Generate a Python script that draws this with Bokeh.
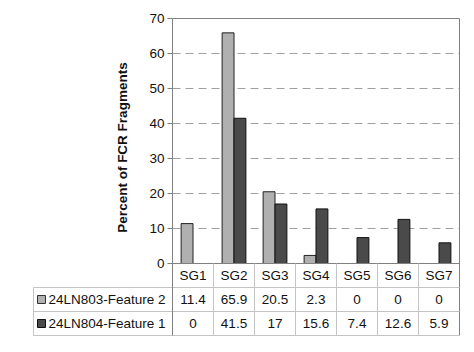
import math
from bokeh.plotting import figure
from bokeh.models import Range1d, FixedTicker, Label, LinearAxis
from bokeh.core.properties import value
from bokeh.embed import file_html
from bokeh.resources import INLINE

categories = ["SG1", "SG2", "SG3", "SG4", "SG5", "SG6", "SG7"]
series_names = ["24LN803-Feature 2", "24LN804-Feature 1"]
feature2 = [11.4, 65.9, 20.5, 2.3, 0, 0, 0]
feature1 = [0, 41.5, 17, 15.6, 7.4, 12.6, 5.9]
feature2_labels = ["11.4", "65.9", "20.5", "2.3", "0", "0", "0"]
feature1_labels = ["0", "41.5", "17", "15.6", "7.4", "12.6", "5.9"]
y_ticks = [0, 10, 20, 30, 40, 50, 60, 70]

FONT = "Liberation Sans"
LIGHT = "#b0b0b0"
DARK = "#4a4a4a"
AXIS_GRAY = "#808080"
TABLE_GRAY = "#c4c4c4"

# geometry (layout constants, in data units of the single frame)
PX_X = 41.0          # px per category
PX_Y = 3.5           # px per percent
ROW = 24.0 / PX_Y    # table row height in y units
LEG_LEFT = -139.0 / PX_X
n = len(categories)
y_top = max(y_ticks)
row_edges = [0, -ROW, -2 * ROW, -3 * ROW]
row_mid = [-(k + 0.5) * ROW for k in range(3)]

p = figure(width=474, height=352,
           x_range=Range1d(-141 / PX_X, 289 / PX_X),
           y_range=Range1d(-74 / PX_Y, y_top + 10 / PX_Y),
           output_backend="svg", toolbar_location=None,
           x_axis_type=None, y_axis_type=None,
           min_border_left=31, min_border_right=13, min_border_top=8, min_border_bottom=15)
p.outline_line_color = None
p.background_fill_color = "white"
p.border_fill_color = "white"

# y axis fixed at x=0 (left edge of the chart area)
yaxis = LinearAxis(fixed_location=0, ticker=FixedTicker(ticks=y_ticks),
                   bounds=(row_edges[-1], y_top))
yaxis.axis_line_color = AXIS_GRAY
yaxis.major_tick_line_color = AXIS_GRAY
yaxis.major_tick_out = 5
yaxis.major_tick_in = 0
yaxis.minor_tick_line_color = None
yaxis.major_label_text_font = FONT
yaxis.major_label_text_font_size = "13.5px"
yaxis.major_label_text_color = "#111111"
yaxis.major_label_standoff = 3
p.add_layout(yaxis, "left")

# dashed gridlines inside the chart area
grid_vals = [v for v in y_ticks if 0 < v < y_top]
p.segment(x0=[0] * len(grid_vals), y0=grid_vals, x1=[n] * len(grid_vals), y1=grid_vals,
          line_color="#a0a0a0", line_width=1, line_dash="8 5")

# plot border (top, right)
p.segment(x0=[0], y0=[y_top], x1=[n], y1=[y_top], line_color=AXIS_GRAY, line_width=1)
p.segment(x0=[n], y0=[row_edges[-1]], x1=[n], y1=[y_top], line_color=AXIS_GRAY, line_width=1)

# bars
xs = [i + 0.5 for i in range(n)]
bw = 0.29
p.vbar(x=[x - bw / 2 for x in xs], top=feature2, width=bw,
       fill_color=LIGHT, line_color="#222222", line_width=1)
p.vbar(x=[x + bw / 2 for x in xs], top=feature1, width=bw,
       fill_color=DARK, line_color="#111111", line_width=1)

# category axis line
p.segment(x0=[0], y0=[0], x1=[n], y1=[0], line_color=AXIS_GRAY, line_width=1)

# data table rules
p.segment(x0=[LEG_LEFT] * 3, y0=row_edges[1:], x1=[n] * 3, y1=row_edges[1:],
          line_color=TABLE_GRAY, line_width=1)
p.segment(x0=list(range(1, n)), y0=[0] * (n - 1), x1=list(range(1, n)), y1=[row_edges[-1]] * (n - 1),
          line_color=TABLE_GRAY, line_width=1)
p.segment(x0=[LEG_LEFT], y0=[row_edges[1]], x1=[LEG_LEFT], y1=[row_edges[-1]],
          line_color=TABLE_GRAY, line_width=1)

# table texts
for labels, ym in ((categories, row_mid[0]), (feature2_labels, row_mid[1]), (feature1_labels, row_mid[2])):
    p.text(x=xs, y=[ym] * n, text=labels, text_align="center", text_baseline="middle",
           text_font=value(FONT), text_font_size="13.5px", text_color="#111111")

p.scatter(x=[LEG_LEFT + 8 / PX_X] * 2, y=row_mid[1:], marker="square", size=8,
          fill_color=[LIGHT, DARK], line_color=["#333333", "#111111"], line_width=1)
p.text(x=[LEG_LEFT + 15 / PX_X] * 2, y=row_mid[1:], text=series_names,
       text_align="left", text_baseline="middle",
       text_font=value(FONT), text_font_size="13.5px", text_color="#111111")

# y-axis title
p.add_layout(Label(x=-50 / PX_X, y=116 / PX_Y, text="Percent of FCR Fragments",
                   angle=math.pi / 2, text_align="center", text_baseline="middle",
                   text_font=FONT, text_font_size="13.5px", text_font_style="bold",
                   text_color="#111111"))

open("out.html", "w").write(file_html(p, INLINE))
